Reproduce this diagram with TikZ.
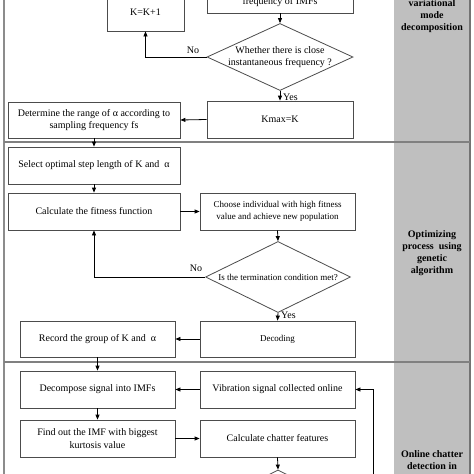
\documentclass[tikz,border=0pt]{standalone}
\usepackage{fontspec}
\setmainfont{Liberation Serif}
\usetikzlibrary{arrows.meta,shapes.geometric}
\begin{document}
\begin{tikzpicture}[x=1pt,y=-1pt,
  box/.style={draw=black!70,line width=0.8pt,rectangle,inner sep=0pt,align=center,font=\fontsize{10}{12.5}\selectfont},
  dia/.style={draw=black!70,line width=0.8pt,diamond,inner sep=0pt},
  txt/.style={inner sep=0pt,align=center,font=\fontsize{10}{12}\selectfont},
  smalltxt/.style={inner sep=0pt,align=center,font=\fontsize{9}{12}\selectfont},
  side/.style={inner sep=0pt,align=center,font=\bfseries\fontsize{10}{12}\selectfont},
  arr/.style={-{Triangle[length=5pt,width=4pt]},line width=0.8pt,black},
  sep/.style={draw=black!50,line width=1.4pt}]
\useasboundingbox (0,0) rectangle (474,474);
\clip (0,0) rectangle (474,474);
\fill[white] (0,0) rectangle (474,474);
% gray column
\fill[black!25] (394,-5) rectangle (470,480);
\draw[black!55,line width=1.2pt] (470,-5) -- (470,480);
\draw[black!45,line width=1.2pt] (4,-5) -- (4,480);
\draw[sep] (4,142) -- (470,142);
\draw[sep] (4,362) -- (470,362);
% section 1
\node[box,minimum width=77pt,minimum height=38pt] (kk) at (145.5,12) {K=K+1};
\node[box,minimum width=146pt,minimum height=37pt] (freq) at (280,-5.5) {};
\node[txt] (freqtxt) at (280,2) {frequency of IMFs};
\node[dia,minimum width=146pt,minimum height=67pt] (d1) at (280,57) {};
\node[txt] (d1txt) at (d1) {Whether there is close\\instantaneous frequency ?};
\node[box,minimum width=146pt,minimum height=37pt] (kmax) at (280,119.5) {Kmax=K};
\node[box,minimum width=172pt,minimum height=36pt] (det) at (94,120) {Determine the range of α according to\\sampling frequency fs};
\node[side] (s1) at (432,16) {variational\\mode\\decomposition};
\draw[arr] (freq.south) -- (d1.north);
\draw[arr] (d1.west) -| (kk.south);
\node[txt] (no1) at (193,50) {No};
\draw[arr] (d1.south) -- (kmax.north);
\node[txt,anchor=west] (yes1) at (283,97) {Yes};
\draw[arr] (kmax.west) -- (det.east);
% section 2
\node[box,minimum width=172pt,minimum height=37pt] (sel) at (94,165.5) {Select optimal step length of K and \ α};
\node[box,minimum width=172pt,minimum height=37pt] (calc) at (94,211.5) {Calculate the fitness function};
\node[box,minimum width=155pt,minimum height=37pt,font=\fontsize{9}{12.5}\selectfont] (choose) at (277.5,211.5) {Choose individual with high fitness\\value and achieve new population};
\node[dia,minimum width=145pt,minimum height=71pt] (d2) at (278,277) {};
\node[smalltxt] (d2txt) at (d2) {Is the termination condition met?};
\node[box,minimum width=155pt,minimum height=36pt,font=\fontsize{9}{12}\selectfont] (dec) at (277.5,339) {Decoding};
\node[box,minimum width=155pt,minimum height=36pt] (rec) at (97.5,339) {Record the group of K and \ α};
\node[side] (s2) at (432,253) {Optimizing\\process \ using\\genetic\\algorithm};
\draw[arr] (det.south) -- (sel.north);
\draw[arr] (sel.south) -- (calc.north);
\draw[arr] (calc.east) -- (choose.west);
\draw[arr] (choose.south) -- (d2.north);
\draw[arr] (d2.west) -| (calc.south);
\node[txt] (no2) at (196,268) {No};
\draw[arr] (d2.south) -- (dec.north);
\node[txt,anchor=west] (yes2) at (281,315) {Yes};
\draw[arr] (dec.west) -- (rec.east);
% section 3
\node[box,minimum width=155pt,minimum height=37pt] (dcp) at (97.5,389.5) {Decompose signal into IMFs};
\node[box,minimum width=155pt,minimum height=37pt] (vib) at (277.5,389.5) {Vibration signal collected online};
\node[box,minimum width=155pt,minimum height=37pt] (find) at (97.5,438.5) {Find out the IMF with biggest\\kurtosis value};
\node[box,minimum width=155pt,minimum height=37pt] (chat) at (277.5,438.5) {Calculate chatter features};
\node[dia,minimum width=145pt,minimum height=71pt] (d3) at (278,505.5) {};
\node[side] (s3) at (432,460.5) {Online chatter\\detection in};
\coordinate (fb) at (373,480);
\draw[arr] (rec.south) -- (dcp.north);
\draw[arr] (vib.west) -- (dcp.east);
\draw[arr] (fb) |- (vib.east);
\draw[arr] (dcp.south) -- (find.north);
\draw[arr] (find.east) -- (chat.west);
\draw[arr] (chat.south) -- (d3.north);
\end{tikzpicture}
\end{document}
